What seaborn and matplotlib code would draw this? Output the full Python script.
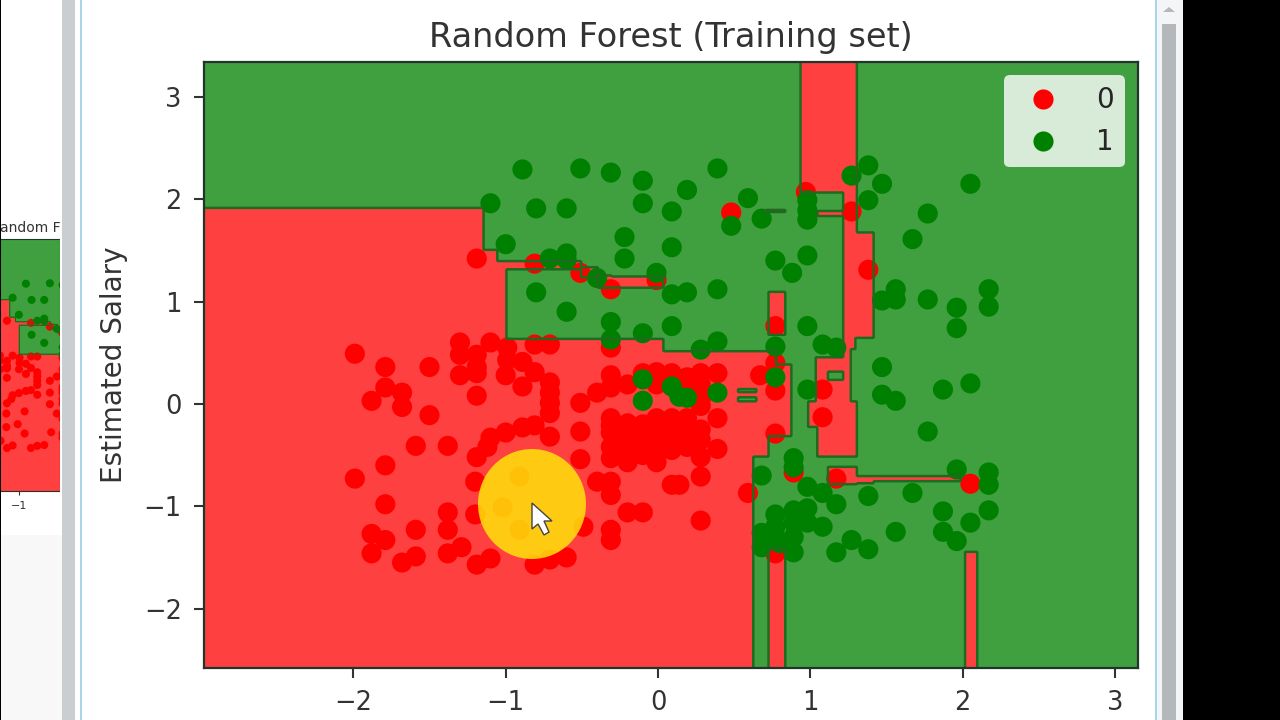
import numpy as np
import pandas as pd
import matplotlib
matplotlib.use("Agg")
import matplotlib.pyplot as plt
from matplotlib.patches import Ellipse, Polygon, Rectangle
import seaborn as sns

# training points, class 0
red_x = [-1.19, -0.81, -0.51, -0.31, -0.01, 0.48, 0.97, 1.27, 1.38, 0.77,
         -1.99, -1.79, -1.50, -1.30, -1.30, -1.10, -0.99, -1.19, -1.19, -1.30,
         -1.19, -0.99, -1.00, -0.89, -0.89, -0.81, -0.71, -0.71, -0.71, -0.71,
         -0.81, -0.71, -0.31, -1.19, -1.79, -1.88, -1.68, -1.68, -1.50, -1.59,
         -1.38, -1.79, -1.99, -1.79, -1.59, -1.88, -1.79, -1.88, -1.68, -1.59,
         -1.38, -1.38, -1.38, -1.29, -1.19, -1.12, -1.10, -1.00, -0.89, -0.81,
         -0.71, -1.20, -1.20, -1.19, -1.10, -0.81, -0.71, -0.60, -0.49, -0.91,
         -1.02, -0.91, -0.51, -0.40, -0.31, -0.31, -0.20, -0.10, -0.01, 0.09,
         -0.51, -0.51, -0.40, -0.31, -0.31, -0.20, -0.10, -0.31, -0.31, 0.09,
         -0.31, -0.20, -0.31, -0.31, -0.31, -0.20, -0.20, -0.10, -0.01, -0.01,
         -0.01, 0.09, 0.19, 0.28, 0.39, 0.28, 0.67, 0.77, 0.77, 1.08,
         1.08, 0.77, 0.39, 0.19, 0.28, 0.19, 0.39, 0.28, 0.28, 0.59,
         0.28, 0.14, 0.89, 1.17, 2.05, 0.77, 0.09, -0.01, 0.28,
         -0.31, -0.20, -0.20, -0.10, -0.10, -0.10, -0.01, -0.01, 0.09, 0.09,
         0.19, 0.28, 0.19, 0.19, 0.28, 0.14]
red_y = [1.42, 1.37, 1.28, 1.12, 1.21, 1.87, 2.07, 1.88, 1.31, 0.76,
         0.49, 0.36, 0.36, 0.60, 0.48, 0.60, 0.55, 0.48, 0.36, 0.28,
         0.30, 0.43, 0.28, 0.41, 0.17, 0.31, 0.21, 0.11, 0.01, -0.09,
         0.58, 0.58, 0.55, 0.08, 0.16, 0.03, 0.11, -0.03, -0.11, -0.41,
         -0.41, -0.60, -0.73, -0.98, -1.23, -1.27, -1.33, -1.46, -1.55, -1.49,
         -1.06, -1.23, -1.46, -1.40, -0.52, -0.42, -0.33, -0.28, -0.23, -0.21,
         -0.32, -0.76, -1.08, -1.57, -1.51, -1.57, -1.52, -1.50, -1.20, -0.71,
         -1.01, -1.23, 0.01, 0.11, 0.28, 0.16, 0.19, 0.30, 0.31, 0.30,
         -0.27, -0.54, -0.76, -0.76, -0.89, -1.06, -1.06, -1.23, -1.33, -0.79,
         -0.14, -0.19, -0.28, -0.42, -0.53, -0.38, -0.57, -0.38, -0.14, -0.35,
         -0.57, -0.25, 0.26, 0.30, 0.30, 0.04, 0.28, 0.40, 0.13, 0.14,
         -0.13, -0.29, -0.14, -0.14, -0.25, -0.32, -0.44, -0.52, -0.71, -0.87,
         -1.14, -0.79, -0.67, -0.73, -0.78, -1.46, -0.14, 0.19, 0.19,
         -0.21, -0.28, -0.47, -0.28, -0.20, -0.50, -0.25, -0.46, -0.35, -0.45,
         -0.22, -0.35, -0.42, 0.17, -0.02, -0.33]

# training points, class 1
green_x = [-0.89, -0.51, -0.31, -0.10, 0.19, -1.10, -0.80, -0.60, -0.10, 0.09,
           -0.22, 0.09, -1.00, -0.71, -0.60, -0.60, -0.22, -0.40, -0.01, 0.09,
           -0.80, -0.60, -0.31, -0.31, -0.10, 0.09, 0.39, 0.59, 1.38, 1.27,
           1.47, 1.38, 2.05, 1.77, 1.67, 0.48, 0.68, 0.98, 0.98, 0.98,
           0.77, 0.98, 0.88, 0.19, 0.39, 1.47, 1.56, 1.56, 1.77, 1.96,
           2.17, 2.17, 1.96, 0.98, 0.77, 0.39, 0.28, 1.08, 1.17, 1.47,
           2.05, 1.87, 1.47, 1.56, 1.77, 0.98, 0.77, 0.39, 0.19, -0.10,
           0.09, -0.10, 0.14, 0.89, 0.89, 0.68, 1.96, 2.17, 2.17, 0.98,
           1.08, 1.17, 1.38, 1.67, 1.87, 2.17, 2.05, 1.08, 1.87, 1.96,
           1.56, 1.27, 1.17, 1.38, 0.77, 0.89, 0.98, 0.98, 0.89, 0.77,
           0.68, 0.68, 0.77, 0.89, 0.89, 0.80]
green_y = [2.29, 2.30, 2.26, 2.18, 2.09, 1.96, 1.91, 1.91, 1.96, 1.88,
           1.63, 1.53, 1.56, 1.42, 1.47, 1.41, 1.42, 1.23, 1.28, 1.07,
           1.09, 0.90, 0.80, 0.63, 0.69, 0.76, 2.30, 2.01, 2.33, 2.23,
           2.15, 1.99, 2.15, 1.86, 1.61, 1.74, 1.81, 1.99, 1.89, 1.80,
           1.40, 1.45, 1.28, 1.09, 1.12, 1.01, 1.12, 1.02, 1.02, 0.94,
           1.12, 0.95, 0.74, 0.76, 0.56, 0.61, 0.53, 0.58, 0.55, 0.36,
           0.20, 0.14, 0.09, 0.03, -0.27, 0.14, 0.26, 0.11, 0.06, 0.24,
           0.17, 0.03, 0.07, -0.53, -0.62, -0.70, -0.64, -0.67, -0.79, -0.81,
           -0.87, -0.98, -0.90, -0.87, -1.05, -1.04, -1.16, -1.20, -1.25, -1.34,
           -1.25, -1.33, -1.45, -1.42, -1.08, -1.04, -1.02, -1.16, -1.16, -1.20,
           -1.26, -1.40, -1.30, -1.30, -1.45, -1.36]

# class 0 parts of the decision surface: x from, x to, y from, y to
red_boxes = [
    (-3.5, -1.15, -3.0, 1.91), (-1.15, -1.06, -3.0, 1.50), (-1.06, -1.00, -3.0, 1.39),
    (-1.00, 0.03, -3.0, 0.63), (0.03, 0.62, -3.0, 0.51), (0.62, 0.72, -0.52, 0.51),
    (0.72, 0.77, -0.32, 0.51), (0.77, 0.87, -0.32, 0.38),
    (-1.06, -0.51, 1.31, 1.39), (-0.51, -0.40, 1.23, 1.33), (-0.40, -0.31, 1.13, 1.25),
    (-0.31, 0.03, 1.13, 1.24),
    (0.93, 1.30, 2.06, 3.5), (1.21, 1.30, 1.67, 2.06), (1.21, 1.41, 0.64, 1.67),
    (1.21, 1.29, 0.53, 0.64), (1.21, 1.26, 0.45, 0.53),
    (1.04, 1.21, 1.83, 1.88), (0.70, 0.83, 1.87, 1.89), (0.72, 0.83, 0.67, 1.09),
    (1.03, 1.26, 0.02, 0.45), (0.98, 1.30, -0.23, 0.02), (1.04, 1.30, -0.52, -0.23),
    (1.11, 1.30, -0.79, -0.62), (1.30, 1.98, -0.76, -0.71), (1.30, 1.41, -0.78, -0.72),
    (0.72, 0.83, -3.0, -1.42), (2.01, 2.09, -3.0, -1.45),
]
# class 1 islands inside the red boxes
green_boxes = [(0.52, 0.64, 0.11, 0.14), (0.52, 0.64, 0.02, 0.06), (1.11, 1.21, 0.23, 0.31)]

x_ticks = [-2, -1, 0, 1, 2, 3]
y_ticks = [-2, -1, 0, 1, 2, 3]
tick_labels = ["\u22122", "\u22121", "0", "1", "2", "3"]
x_range = (-2.98, 3.15)
y_range = (-2.58, 3.34)

W, H = 1280, 720


def px_axes(fig, x0, y0, x1, y1):
    return fig.add_axes([x0 / W, 1 - y1 / H, (x1 - x0) / W, (y1 - y0) / H])


def px_rect(fig, x0, y0, x1, y1, color):
    fig.add_artist(Rectangle((x0 / W, 1 - y1 / H), (x1 - x0) / W, (y1 - y0) / H,
                             transform=fig.transFigure, facecolor=color, edgecolor="none",
                             zorder=5))


def draw_surface(ax, lw):
    xs = np.arange(-3.5, 3.5, 0.01)
    ys = np.arange(-3.0, 3.5, 0.01)
    X1, X2 = np.meshgrid(xs, ys)
    Z = np.ones_like(X1)
    for x0, x1, y0, y1 in red_boxes:
        Z[(X1 >= x0) & (X1 < x1) & (X2 >= y0) & (X2 < y1)] = 0
    for x0, x1, y0, y1 in green_boxes:
        Z[(X1 >= x0) & (X1 < x1) & (X2 >= y0) & (X2 < y1)] = 1
    ax.contourf(X1, X2, Z, levels=[-0.5, 0.5, 1.5], colors=["red", "green"], alpha=0.75)
    ax.contour(X1, X2, Z, levels=[0.5], colors="#1f6a1f", linewidths=lw)


points = pd.DataFrame({
    "x": red_x + green_x,
    "y": red_y + green_y,
    "label": [0] * len(red_x) + [1] * len(green_x),
})
palette = {0: "red", 1: "green"}

sns.set_theme(style="ticks")
plt.rcParams["font.family"] = ["DejaVu Sans"]

fig = plt.figure(figsize=(W / 100, H / 100), dpi=100, facecolor="white")

# main plot
ax = px_axes(fig, 204, 62, 1138, 668)
draw_surface(ax, 1.8)
sns.scatterplot(data=points, x="x", y="y", hue="label", palette=palette, s=210,
                linewidth=0, ax=ax)
ax.set_xlim(x_range)
ax.set_ylim(y_range)
ax.set_xticks(x_ticks)
ax.set_yticks(y_ticks)
ax.set_xticklabels(tick_labels)
ax.set_yticklabels(tick_labels)
ax.tick_params(labelsize=18.5, length=7, width=1.5, color="#333333", labelcolor="#333333", pad=9)
for spine in ax.spines.values():
    spine.set_visible(True)
    spine.set_linewidth(1.6)
    spine.set_color("#22352a")
ax.set_xlabel("")
ax.set_ylabel("Estimated Salary", fontsize=20, color="#333333", labelpad=11)
ax.set_title("Random Forest (Training set)", fontsize=24.2, color="#333333", pad=11)
ax.legend(loc="upper right", fontsize=20, framealpha=0.8, edgecolor="none",
          borderaxespad=0.48, handletextpad=0.9, markerscale=1.0)

# cropped copy of the same plot in the window behind
thumb = px_axes(fig, 0, 239, 60, 491)
draw_surface(thumb, 0.8)
sns.scatterplot(data=points, x="x", y="y", hue="label", palette=palette, s=34,
                linewidth=0, ax=thumb, legend=False)
thumb.set_xlim(-1.30, -0.35)
thumb.set_ylim(y_range)
thumb.set_xticks([-1])
thumb.set_xticklabels(["\u22121"])
thumb.set_yticks([])
thumb.set_xlabel("")
thumb.set_ylabel("")
thumb.tick_params(labelsize=8, length=3, width=0.8, color="#333333", labelcolor="#333333", pad=4)
for spine in thumb.spines.values():
    spine.set_visible(True)
    spine.set_linewidth(0.8)
    spine.set_color("#22352a")
fig.text(0, 1 - 228 / H, "andom Fo", fontsize=10, color="#333333", ha="left", va="center")

# window chrome from the screen recording
px_rect(fig, 1, 535, 62, 720, "#f8f8f8")
px_rect(fig, 0, 0, 1, 720, "black")
px_rect(fig, 60, 0, 62, 535, "white")
px_rect(fig, 62, 0, 75, 720, "#c9ced1")
px_rect(fig, 80, 0, 82, 720, "#a9d5ec")
px_rect(fig, 1155, 0, 1157, 720, "#a9d5ec")
px_rect(fig, 1157, 0, 1183, 720, "#f4f5f6")
px_rect(fig, 1162, 24, 1176, 720, "#b4b8bb")
px_rect(fig, 1183, 0, 1280, 720, "black")
arrow = [(1169, 7), (1163, 12), (1175, 12)]
fig.add_artist(Polygon([(x / W, 1 - y / H) for x, y in arrow], closed=True,
                       transform=fig.transFigure, facecolor="#b4b8bb", edgecolor="none", zorder=6))

# cursor highlight and pointer
fig.add_artist(Ellipse((532 / W, 1 - 504 / H), 108 / W, 110 / H, transform=fig.transFigure,
                       facecolor="#ffe40a", edgecolor="none", alpha=0.85, zorder=6))
pointer = [(532, 503), (532, 529), (538, 524), (544, 535), (549, 532), (544, 521), (552, 521)]
fig.add_artist(Polygon([(x / W, 1 - y / H) for x, y in pointer], closed=True,
                       transform=fig.transFigure, facecolor="white", edgecolor="#444444",
                       linewidth=1, zorder=7))

fig.savefig("out.png", dpi=100)
